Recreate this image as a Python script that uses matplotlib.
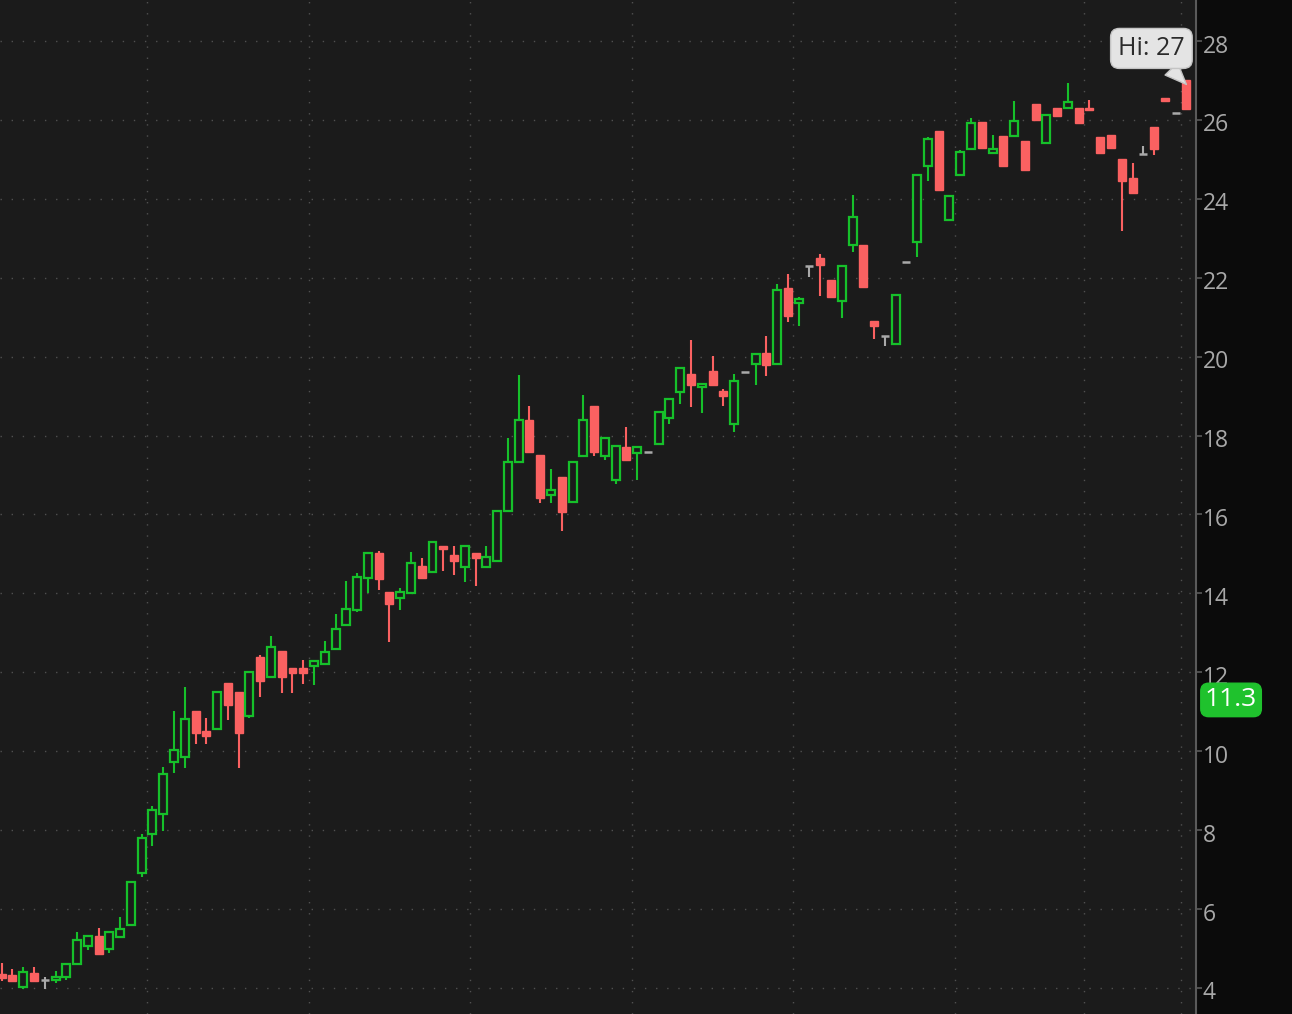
import numpy as np
import matplotlib
matplotlib.use('Agg')
import matplotlib.pyplot as plt
import matplotlib.transforms as mtrans
from matplotlib.patches import Rectangle

plt.rcParams['font.family'] = ['Open Sans', 'DejaVu Sans']

# daily candles (oldest first)
opens = [4.35, 4.33, 4.03, 4.39, 4.19, 4.19, 4.27, 4.60, 5.06, 5.32,
         4.98, 5.30, 5.59, 6.91, 7.90, 8.41, 9.73, 9.86, 11.02, 10.51,
         10.57, 11.72, 11.50, 10.90, 12.40, 11.89, 12.53, 12.10, 12.10, 12.17,
         12.22, 12.59, 13.20, 13.58, 14.39, 15.03, 14.03, 13.88, 14.02, 14.70,
         14.54, 15.21, 14.98, 14.68, 15.02, 14.68, 14.81, 16.09, 17.32, 18.40,
         17.51, 16.50, 16.96, 16.31, 17.49, 18.74, 17.49, 16.88, 17.70, 17.55,
         17.59, 17.78, 18.44, 19.10, 19.56, 19.24, 19.64, 19.13, 18.30, 19.62,
         19.81, 20.10, 19.81, 21.75, 21.36, 22.31, 22.51, 21.95, 21.40, 22.82,
         22.83, 20.91, 20.53, 20.32, 22.40, 22.90, 24.84, 25.71, 23.47, 24.61,
         25.26, 25.94, 25.17, 25.60, 25.60, 25.47, 26.41, 25.41, 26.31, 26.30,
         26.31, 26.31, 25.58, 25.62, 25.01, 24.54, 25.13, 25.81, 26.55, 26.17,
         27.00]
highs = [4.63, 4.48, 4.52, 4.52, 4.29, 4.43, 4.61, 5.43, 5.31, 5.51,
         5.41, 5.79, 6.68, 7.90, 8.62, 9.61, 11.03, 11.64, 11.02, 10.84,
         11.49, 11.72, 11.50, 12.00, 12.44, 12.91, 12.53, 12.10, 12.30, 12.29,
         12.80, 13.48, 14.32, 14.51, 15.02, 15.08, 14.03, 14.13, 15.04, 14.89,
         15.30, 15.21, 15.21, 15.20, 15.02, 15.21, 16.10, 17.95, 19.54, 18.74,
         17.51, 17.15, 16.96, 17.33, 19.03, 18.74, 17.93, 17.74, 18.23, 17.70,
         17.59, 18.59, 18.92, 19.72, 20.43, 19.30, 20.02, 19.18, 19.56, 19.62,
         20.06, 20.53, 21.85, 22.09, 21.52, 22.31, 22.61, 21.95, 22.31, 24.10,
         22.83, 20.91, 20.53, 21.57, 22.40, 24.61, 25.56, 25.71, 24.06, 25.24,
         26.05, 25.94, 25.62, 25.60, 26.47, 25.47, 26.41, 26.13, 26.31, 26.93,
         26.31, 26.51, 25.58, 25.62, 25.01, 24.92, 25.34, 25.81, 26.55, 26.17,
         27.00]
lows = [4.18, 4.18, 3.97, 4.18, 3.97, 4.12, 4.19, 4.60, 4.96, 4.87,
        4.88, 5.30, 5.59, 6.80, 7.61, 7.98, 9.44, 9.58, 10.19, 10.19,
        10.57, 10.79, 9.58, 10.84, 11.37, 11.89, 11.47, 11.47, 11.70, 11.68,
        12.22, 12.59, 13.20, 13.54, 14.00, 14.09, 12.78, 13.58, 14.02, 14.39,
        14.54, 14.57, 14.47, 14.28, 14.20, 14.68, 14.81, 16.09, 17.32, 17.58,
        16.30, 16.30, 15.59, 16.31, 17.49, 17.47, 17.38, 16.78, 17.38, 16.88,
        17.59, 17.78, 18.29, 18.80, 18.72, 18.58, 19.29, 18.75, 18.10, 19.62,
        19.28, 19.51, 19.81, 20.87, 20.79, 22.01, 21.54, 21.48, 20.98, 22.66,
        21.76, 20.44, 20.26, 20.32, 22.40, 22.52, 24.46, 24.23, 23.47, 24.61,
        25.26, 25.30, 25.17, 24.84, 25.60, 24.74, 26.00, 25.41, 26.10, 26.30,
        25.92, 26.25, 25.17, 25.30, 23.19, 24.14, 25.13, 25.12, 26.48, 26.17,
        26.28]
closes = [4.25, 4.18, 4.41, 4.18, 4.19, 4.29, 4.61, 5.22, 5.31, 4.87,
          5.41, 5.50, 6.68, 7.81, 8.51, 9.42, 10.03, 10.82, 10.47, 10.39,
          11.49, 11.17, 10.47, 12.00, 11.78, 12.63, 11.89, 11.98, 11.98, 12.29,
          12.52, 13.09, 13.61, 14.41, 15.02, 14.37, 13.73, 14.03, 14.78, 14.39,
          15.30, 15.13, 14.81, 15.20, 14.89, 14.92, 16.10, 17.33, 18.40, 17.58,
          16.41, 16.62, 16.06, 17.33, 18.40, 17.58, 17.93, 17.74, 17.38, 17.70,
          17.59, 18.59, 18.92, 19.72, 19.29, 19.30, 19.29, 19.01, 19.39, 19.62,
          20.06, 19.79, 21.69, 21.02, 21.47, 22.31, 22.33, 21.52, 22.31, 23.54,
          21.76, 20.78, 20.53, 21.57, 22.40, 24.61, 25.51, 24.23, 24.06, 25.18,
          25.93, 25.30, 25.27, 24.84, 25.98, 24.74, 26.00, 26.13, 26.10, 26.45,
          25.92, 26.25, 25.17, 25.30, 24.46, 24.14, 25.13, 25.26, 26.48, 26.17,
          26.28]
# candle index after which a vertical (period) divider is drawn
dividers = [14, 29, 44, 59, 74, 89, 101, 110]
price_ticks = list(range(4, 29, 2))
study_value = 11.3

bg = '#1b1b1b'
axis_bg = '#0b0b0b'
green = '#16c02a'
red = '#fa6161'
gray = '#a9a9a9'
grid_c = '#505050'

fig = plt.figure(figsize=(12.92, 10.14), dpi=100, facecolor=axis_bg)
ax = fig.add_axes([0, 0, 1196/1292, 1])
ax.set_facecolor(bg)

n = np.arange(1, len(opens) + 1)
w = 0.74
for i, o, h, l, c in zip(n, opens, highs, lows, closes):
    if c > o:
        col = green
    elif c < o:
        col = red
    else:
        col = gray
    ax.plot([i, i], [l, h], color=col, lw=1.5, solid_capstyle='butt', zorder=2)
    if c == o:
        ax.plot([i - w/2, i + w/2], [o, o], color=col, lw=1.8,
                solid_capstyle='butt', zorder=3)
    elif c > o:
        ax.add_patch(Rectangle((i - w/2, o), w, c - o, facecolor=bg,
                               edgecolor=col, lw=1.6, zorder=3))
    else:
        ax.add_patch(Rectangle((i - w/2, c), w, o - c, facecolor=col,
                               edgecolor=col, lw=1.0, zorder=3))

# grid
for p in price_ticks:
    ax.axhline(p, color=grid_c, lw=1.0, ls=(0, (1, 7)), zorder=1)
for d in dividers:
    ax.axvline(d + 0.5, color=grid_c, lw=1.0, ls=(0, (1, 7)), zorder=1)

ax.set_xlim(0.842, 111.89)
ax.set_ylim(3.34, 29.04)
ax.set_xticks([])
ax.yaxis.tick_right()
ax.set_yticks(price_ticks)
ax.tick_params(axis='y', colors='#5a5a5a', labelcolor='#a8a8a8',
               labelsize=16.5, length=4, width=1.2, pad=1)
# price labels sit a little below their grid line
shift = mtrans.ScaledTranslation(0, -2.5/100, fig.dpi_scale_trans)
for lab in ax.get_yticklabels():
    lab.set_transform(lab.get_transform() + shift)
for s in ['top', 'left', 'bottom']:
    ax.spines[s].set_visible(False)
ax.spines['right'].set_color('#5a5a5a')
ax.spines['right'].set_linewidth(1.5)

# high callout on last candle
last = n[-1]
ax.annotate('Hi: %d' % round(highs[-1]), xy=(last, highs[-1] - 0.1),
            xytext=(-35, 36), textcoords='offset pixels',
            ha='center', va='center', fontsize=18, color='#2b2b2b',
            bbox=dict(boxstyle='round,pad=0.3,rounding_size=0.35',
                      fc='#e4e4e4', ec='#c4c4c4', lw=1),
            arrowprops=dict(arrowstyle='wedge,tail_width=0.7,shrink_factor=0.5',
                            fc='#e4e4e4', ec='#c4c4c4', lw=1,
                            shrinkA=0, shrinkB=0),
            zorder=6, annotation_clip=False)

# study value label on the price axis
ax.annotate('%.1f' % study_value, xy=(1.0, study_value),
            xycoords=('axes fraction', 'data'),
            xytext=(9, 0), textcoords='offset pixels',
            ha='left', va='center', fontsize=19, color='white',
            bbox=dict(boxstyle='round,pad=0.16,rounding_size=0.3',
                      fc='#1fc22d', ec='#1fc22d'),
            annotation_clip=False, zorder=6)

fig.savefig('out.png', dpi=100, facecolor=axis_bg)
